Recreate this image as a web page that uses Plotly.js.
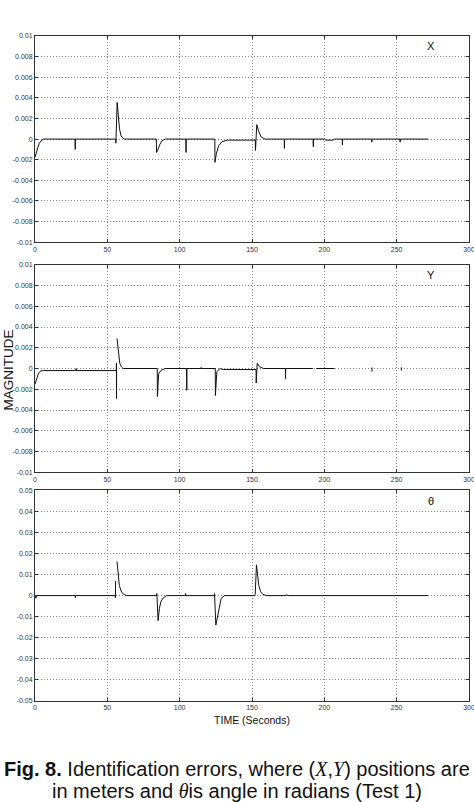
<!DOCTYPE html>
<html>
<head>
<meta charset="utf-8">
<script src="https://cdn.plot.ly/plotly-3.0.1.min.js"></script>
<style>html,body{margin:0;padding:0;background:#fff;}#chart{width:474px;height:802px;}</style>
</head>
<body>
<div id="chart"></div>
<script>
// ---- data ----
var tX = [0,1,2,3,4,5,6,27.7,27.8,27.9,55.8,55.9,56.0,56.8,57.5,58.4,59.5,61,62,83.9,84,84.8,86.2,87.8,90,104.3,104.4,104.5,124.3,124.4,125.3,126.9,129.2,133,150,152.3,152.4,152.6,153.3,154.5,156.3,159,172.3,172.4,172.5,192.3,192.4,192.5,200,201,206,207,212.4,212.5,212.6,232.7,232.8,232.9,252.3,252.4,252.5,271.7];
var vX = [-0.00177,-0.0012,-0.0008,-0.0004,-0.00016,-0.00006,0,0,-0.001,0,0,-0.0004,0,0.00355,0.0026,0.001,0.0003,0.00005,0,0,-0.0013,-0.0011,-0.00055,-0.00016,0,0,-0.0013,0,0,-0.00226,-0.00145,-0.00065,-0.00026,-0.0001,-0.0001,-0.0001,-0.0011,0,0.0014,0.0008,0.0002,0,0,-0.0009,0,0,-0.00075,0,0,-0.0001,-0.0001,0,0,-0.00055,0,0,-0.0003,0,0,-0.0003,0,0];

var tY = [0,1.2,2.5,4.1,6,28.3,28.4,28.5,56.2,56.3,56.35,56.4,56.5,56.7,57.6,58.6,59.7,61,84.5,84.6,85.5,87.2,90,104.8,104.9,105.0,114.7,114.8,114.9,124.6,124.7,125.7,128,130,150,152.8,152.9,153.6,155.2,158,173.1,173.2,173.3,192.1,192.2,194.4,207,208,232.9,232.95,233,253.2,253.25];
var vY = [-0.0015,-0.001,-0.00043,-0.00023,-0.0002,-0.0002,0,-0.0002,-0.0002,0.0005,-0.0029,-0.0002,null,0.0029,0.0018,0.0005,0.00017,0,0,-0.0027,-0.0005,-0.00017,0,0,-0.0021,0,0,0.0001,0,0,-0.0026,-0.0003,0,-0.0001,-0.0001,-0.0001,-0.0014,0.0005,0.00017,0,0,-0.001,0,0,null,0,0,null,0.0001,-0.0003,null,0.0001,-0.0002];

var tT = [0,0.5,1.5,27.8,27.9,28.1,55.5,55.6,55.7,55.8,56.7,57.3,58.3,59.5,60.6,63,84.1,84.2,85.1,86,87,88.3,91,104.0,104.1,104.2,124.0,124.1,125.0,126.4,127.5,128.7,131,152.1,152.2,153.1,154.7,156,157.5,160,173.5,173.6,174.5,175.5,271.6];
var vT = [0,-0.0012,0,0,-0.001,0,0,-0.001,0.007,null,0.0162,0.011,0.0048,0.0022,0.001,0,0,0.001,-0.0119,-0.006,-0.003,-0.0013,0,0,0.001,0,0,0.001,-0.014,-0.009,-0.004,-0.0013,0,0,0.0005,0.0146,0.0048,0.0018,0.0006,0,0,0.0003,0.0002,0,0];

var xTicks = [0,50,100,150,200,250,300];
var xTickText = ["0","50","100","150","200","250","300"];
var posTicks = [0.01,0.008,0.006,0.004,0.002,0,-0.002,-0.004,-0.006,-0.008,-0.01];
var posTickText = ["0.01","0.008","0.006","0.004","0.002","0","-0.002","-0.004","-0.006","-0.008","-0.01"];
var angTicks = [0.05,0.04,0.03,0.02,0.01,0,-0.01,-0.02,-0.03,-0.04,-0.05];
var angTickText = ["0.05","0.04","0.03","0.02","0.01","0","-0.01","-0.02","-0.03","-0.04","-0.05"];
var panelLabels = ["X","Y","θ"];

// ---- figure ----
var lineStyle = {color:'#111', width:1};
var traces = [
  {x:tX, y:vX, xaxis:'x', yaxis:'y', mode:'lines', line:lineStyle, hoverinfo:'skip'},
  {x:tY, y:vY, xaxis:'x2', yaxis:'y2', mode:'lines', line:lineStyle, hoverinfo:'skip', connectgaps:false},
  {x:tT, y:vT, xaxis:'x3', yaxis:'y3', mode:'lines', line:lineStyle, hoverinfo:'skip', connectgaps:false}
];

var tickFont = {family:'Liberation Sans, Arial, sans-serif', size:7, color:'#333'};
var gridDash = '1px,2px';
function xAx(anchor){
  return {anchor:anchor, range:[0,300], tickvals:xTicks, ticktext:xTickText,
    showgrid:true, gridcolor:'#888', gridwidth:1, griddash:gridDash,
    showline:true, linecolor:'#333', linewidth:1, mirror:'ticks',
    ticks:'inside', ticklen:3, tickcolor:'#333', tickfont:tickFont, zeroline:false, fixedrange:true,
    ticklabeloverflow:'allow'};
}
function yAx(anchor, dom, rng, tv, tt){
  return {anchor:anchor, domain:dom, range:rng, tickvals:tv, ticktext:tt,
    showgrid:true, gridcolor:'#888', gridwidth:1, griddash:gridDash,
    showline:true, linecolor:'#333', linewidth:1, mirror:'ticks',
    ticks:'inside', ticklen:3, tickcolor:'#333', tickfont:tickFont, zeroline:false, fixedrange:true,
    ticklabeloverflow:'allow'};
}

var x3 = xAx('y3');
x3.title = {text:'TIME (Seconds)', font:{family:'Liberation Sans, Arial, sans-serif', size:10.5, color:'#111'}, standoff:6};

var labFont = {family:'Liberation Sans, Arial, sans-serif', size:11, color:'#111'};
var ser = "font-family:'Liberation Serif','DejaVu Serif',serif";
var capFont = {family:'Liberation Sans, Arial, sans-serif', size:20, color:'#111'};
var layout = {
  width:474, height:802,
  margin:{l:35, r:5, t:36, b:101},
  paper_bgcolor:'#fff', plot_bgcolor:'#fff',
  showlegend:false,
  xaxis: xAx('y'),
  yaxis: yAx('x', [0.690,1], [-0.01,0.01], posTicks, posTickText),
  xaxis2: xAx('y2'),
  yaxis2: yAx('x2', [0.344,0.656], [-0.01,0.01], posTicks, posTickText),
  xaxis3: x3,
  yaxis3: yAx('x3', [0,0.317], [-0.05,0.05], angTicks, angTickText),
  annotations:[
    {xref:'x', yref:'y', x:274, y:0.009, text:panelLabels[0], showarrow:false, font:labFont},
    {xref:'x2', yref:'y2', x:274, y:0.009, text:panelLabels[1], showarrow:false, font:labFont},
    {xref:'x3', yref:'y3', x:274, y:0.045, text:panelLabels[2], showarrow:false, font:labFont},
    {xref:'paper', yref:'paper', x:-0.062, y:0.497, text:'MAGNITUDE', textangle:-90, showarrow:false,
      xanchor:'center', yanchor:'middle', font:{family:'Liberation Sans, Arial, sans-serif', size:13.5, color:'#111'}},
    {xref:'paper', yref:'paper', x:0.465, y:-0.1023, xanchor:'center', yanchor:'middle', showarrow:false,
      text:'<b>Fig. 8.</b> Identification errors, where (<span style="'+ser+'"><i>X</i></span>,<span style="'+ser+'"><i>Y</i></span>) positions are',
      font:capFont},
    {xref:'paper', yref:'paper', x:0.465, y:-0.1353, xanchor:'center', yanchor:'middle', showarrow:false,
      text:'in meters and <span style="'+ser+'"><i>θ</i></span>is angle in radians (Test 1)',
      font:capFont}
  ]
};

Plotly.newPlot('chart', traces, layout, {staticPlot:true, displayModeBar:false});
</script>
</body>
</html>
